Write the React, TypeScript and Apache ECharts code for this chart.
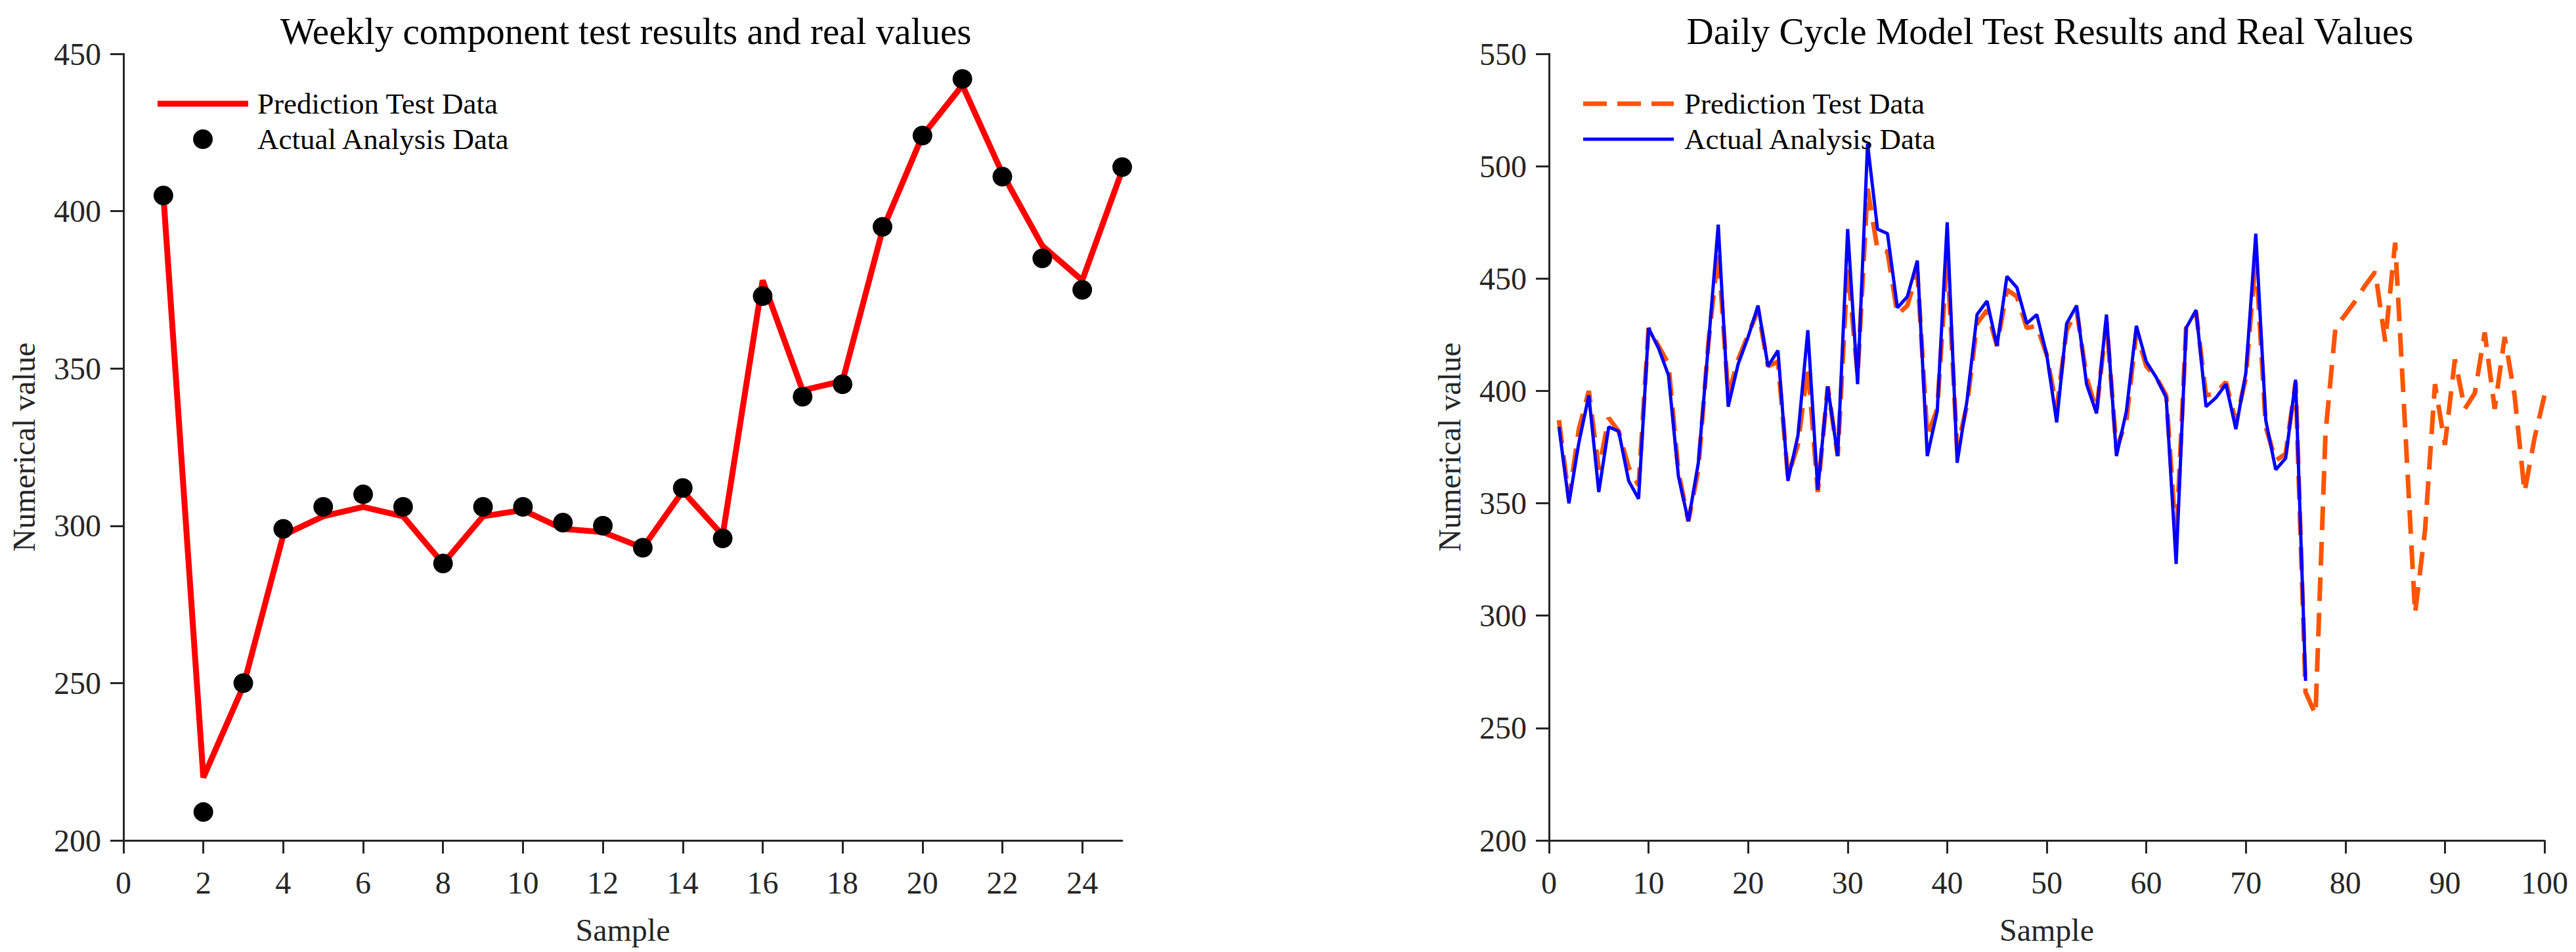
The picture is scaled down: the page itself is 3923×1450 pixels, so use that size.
import React, { useEffect, useRef } from 'react';
import * as echarts from 'echarts';

// weekly component (left panel)
const weeklySamples = [1, 2, 3, 4, 5, 6, 7, 8, 9, 10, 11, 12, 13, 14, 15, 16, 17, 18, 19, 20, 21, 22, 23, 24, 25];
const weeklyPrediction = [405, 220, 249, 297, 303, 306, 303, 288, 303, 305, 299, 298, 293, 311, 297, 378, 343, 346, 394, 424, 440, 412, 389, 378, 413];
const weeklyActual = [405, 209, 250, 299, 306, 310, 306, 288, 306, 306, 301, 300, 293, 312, 296, 373, 341, 345, 395, 424, 442, 411, 385, 375, 414];
const weeklyXTicks = [0, 2, 4, 6, 8, 10, 12, 14, 16, 18, 20, 22, 24];

// daily cycle model (right panel), sample = index + 1
const dailyPrediction = [
  387, 352, 383, 400, 365, 388, 382, 366, 358, 428,
  420, 412, 364, 342, 365, 421, 462, 398, 414, 425,
  436, 411, 413, 362, 376, 411, 355, 402, 371, 455,
  407, 490, 463, 462, 434, 438, 453, 380, 392, 460,
  374, 394, 430, 436, 420, 445, 442, 428, 429, 416,
  392, 427, 436, 406, 391, 431, 374, 387, 426, 411,
  406, 398, 333, 428, 435, 398, 399, 404, 386, 406,
  460, 384, 369, 372, 404, 266, 256, 381, 428, 434,
  440, 447, 453, 422, 466, 384, 301, 338, 403, 376,
  414, 392, 399, 426, 392, 424, 398, 355, 379, 398,
];
const dailyActual = [
  384, 350, 377, 398, 355, 384, 382, 360, 352, 428,
  419, 407, 362, 342, 368, 420, 474, 393, 412, 424,
  438, 411, 418, 360, 380, 427, 356, 402, 371, 472,
  403, 510, 472, 470, 437, 442, 458, 371, 391, 475,
  368, 396, 434, 440, 420, 451, 446, 430, 434, 416,
  386, 430, 438, 403, 390, 434, 371, 391, 429, 413,
  406, 397, 323, 428, 436, 393, 397, 403, 383, 408,
  470, 387, 365, 370, 405, 271,
];

const FONT = "'Liberation Serif', 'Times New Roman', serif";
const AXIS_COLOR = '#262626';
const W = 3923;
const H = 1450;
const LEFT_W = 1960;

// legend glyphs (line samples), scaled into the 138 x 28 legend box
const ICON_SOLID_THICK = 'path://M0 0H138V9H0Z';
const ICON_SOLID_THIN = 'path://M0 0H138V5H0Z';
const ICON_DASHED = 'path://M0 0H36V7H0Z M52 0H88V7H52Z M104 0H138V7H104Z';

const axisBase = {
  axisLine: { show: true, lineStyle: { color: AXIS_COLOR, width: 3 } },
  axisTick: { show: true, length: 20, lineStyle: { color: AXIS_COLOR, width: 3 } },
  splitLine: { show: false },
  nameTextStyle: { fontFamily: FONT, fontSize: 48, color: AXIS_COLOR },
};

const xAxisOf = (max: number, interval: number, ticks?: number[]) => ({
  ...axisBase,
  type: 'value',
  min: 0,
  max,
  interval,
  name: 'Sample',
  nameLocation: 'middle',
  nameGap: 112,
  axisTick: ticks ? { ...axisBase.axisTick, customValues: ticks } : axisBase.axisTick,
  axisLabel: {
    fontFamily: FONT,
    fontSize: 48,
    color: AXIS_COLOR,
    margin: 40,
    ...(ticks ? { customValues: ticks } : {}),
  },
});

const yAxisOf = (min: number, max: number) => ({
  ...axisBase,
  type: 'value',
  min,
  max,
  interval: 50,
  name: 'Numerical value',
  nameLocation: 'middle',
  nameGap: 128,
  axisLabel: { fontFamily: FONT, fontSize: 48, color: AXIS_COLOR, margin: 34 },
});

const titleOf = (text: string, center: number) => ({
  text,
  left: center,
  top: 14,
  textAlign: 'center',
  textStyle: { fontFamily: FONT, fontSize: 57, fontWeight: 'normal', color: '#000' },
});

const legendOf = (left: number, textPad: number, data: any[]) => ({
  orient: 'vertical',
  left,
  top: 129,
  itemWidth: 138,
  itemHeight: 30,
  itemGap: 6,
  data,
  textStyle: {
    fontFamily: FONT,
    fontSize: 45,
    lineHeight: 48,
    color: '#000',
    padding: [0, 0, 0, textPad],
  },
});

const weeklyOption = {
  animation: false,
  backgroundColor: '#fff',
  title: titleOf('Weekly component test results and real values', 948),
  legend: legendOf(235, 9, [
    { name: 'Prediction Test Data', icon: ICON_SOLID_THICK },
    { name: 'Actual Analysis Data', icon: 'circle' },
  ]),
  grid: { left: 188, right: LEFT_W - 1709, top: 82, bottom: 170, containLabel: false },
  xAxis: xAxisOf(25, 2, weeklyXTicks),
  yAxis: yAxisOf(200, 450),
  series: [
    {
      name: 'Prediction Test Data',
      type: 'line',
      symbol: 'none',
      data: weeklySamples.map((s, i) => [s, weeklyPrediction[i]]),
      lineStyle: { color: '#ff0000', width: 9 },
      itemStyle: { color: '#ff0000' },
    },
    {
      name: 'Actual Analysis Data',
      type: 'scatter',
      symbol: 'circle',
      symbolSize: 30,
      data: weeklySamples.map((s, i) => [s, weeklyActual[i]]),
      itemStyle: { color: '#000', opacity: 1 },
      z: 5,
    },
  ],
};

const dailyOption = {
  animation: false,
  backgroundColor: '#fff',
  title: titleOf('Daily Cycle Model Test Results and Real Values', 3117 - LEFT_W),
  legend: legendOf(2406 - LEFT_W, 11, [
    { name: 'Prediction Test Data', icon: ICON_DASHED },
    { name: 'Actual Analysis Data', icon: ICON_SOLID_THIN },
  ]),
  grid: { left: 2359 - LEFT_W, right: 48, top: 82, bottom: 170, containLabel: false },
  xAxis: xAxisOf(100, 10),
  yAxis: yAxisOf(200, 550),
  series: [
    {
      name: 'Prediction Test Data',
      type: 'line',
      symbol: 'none',
      data: dailyPrediction.map((v, i) => [i + 1, v]),
      lineStyle: { color: '#ff5400', width: 7, type: [36, 18] },
      itemStyle: { color: '#ff5400' },
    },
    {
      name: 'Actual Analysis Data',
      type: 'line',
      symbol: 'none',
      data: dailyActual.map((v, i) => [i + 1, v]),
      lineStyle: { color: '#0000ff', width: 5 },
      itemStyle: { color: '#0000ff' },
    },
  ],
};

const Panel: React.FC<{ option: any; width: number }> = ({ option, width }) => {
  const ref = useRef<HTMLDivElement>(null);

  useEffect(() => {
    if (!ref.current) return;
    const chart = echarts.init(ref.current, undefined, { renderer: 'svg' });
    chart.setOption(option);
    return () => {
      chart.dispose();
    };
  }, [option]);

  return <div ref={ref} style={{ width, height: H }} />;
};

const App: React.FC = () => {
  useEffect(() => {
    document.body.style.margin = '0';
  }, []);

  return (
    <div style={{ display: 'flex', width: W, height: H, background: '#fff' }}>
      <Panel option={weeklyOption} width={LEFT_W} />
      <Panel option={dailyOption} width={W - LEFT_W} />
    </div>
  );
};

export default App;
